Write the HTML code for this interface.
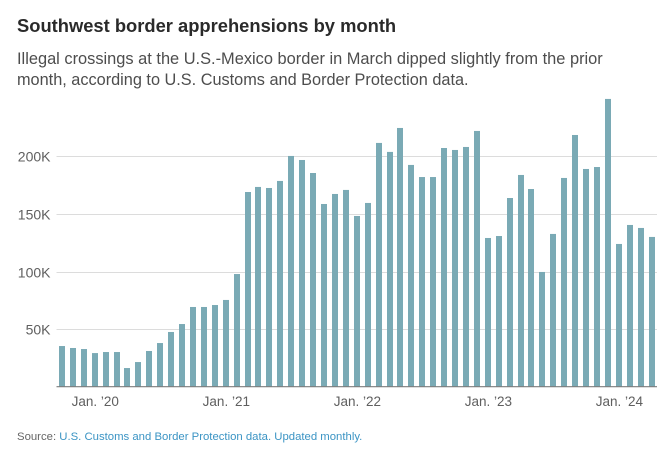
<!DOCTYPE html>
<html lang="en">
<head>
<meta charset="utf-8">
<title>Southwest border apprehensions by month</title>
<style>
  html, body { margin: 0; padding: 0; background: #fff; }
  body { width: 669px; height: 461px; position: relative; overflow: hidden; font-family: "Liberation Sans", sans-serif; }
  .t { position: absolute; white-space: nowrap; margin: 0; }
  #title { left: 17px; top: 15px; font-size: 18.35px; line-height: 21px; font-weight: 700; color: #2a2a2a; }
  #sub1 { left: 17px; top: 49px; font-size: 16.4px; line-height: 21px; color: #4d4d4d; }
  #sub2 { left: 17px; top: 70px; font-size: 16.3px; line-height: 21px; color: #4d4d4d; }
  #source { left: 17px; top: 430px; font-size: 11.35px; line-height: 14px; color: #666; }
  #source a { color: #3b94c4; text-decoration: none; }
  svg { position: absolute; left: 0; top: 0; }
  svg text { font-family: "Liberation Sans", sans-serif; fill: #5f5f5f; }
  svg text.y-label { font-size: 14px; }
  svg text.x-label { font-size: 13.5px; }
</style>
</head>
<body>
  <h1 class="t" id="title">Southwest border apprehensions by month</h1>
  <p class="t" id="sub1">Illegal crossings at the U.S.-Mexico border in March dipped slightly from the prior</p>
  <p class="t" id="sub2">month, according to U.S. Customs and Border Protection data.</p>
  <svg id="chart" width="669" height="461"></svg>
  <p class="t" id="source">Source: <a href="#">U.S. Customs and Border Protection data. Updated monthly.</a></p>

<script>
const monthValues = [35.3, 33.6, 32.7, 29.2, 30.1, 30.1, 16.2, 21.4, 31, 37.9, 47.5, 54.4, 69.2, 69.2, 70.9, 75.3, 97.8, 169, 173.4, 172.5, 178.6, 200.3, 196.8, 185.5, 158.6, 167.3, 170.8, 148.2, 159.5, 211.6, 203.8, 224.6, 192.5, 182, 182, 207.2, 205.5, 208.1, 222, 129.1, 130.8, 163.8, 183.8, 171.6, 99.6, 132.6, 181.2, 218.5, 189, 190.7, 249.8, 123.9, 140.4, 137.8, 130];
const yTicks = [50, 100, 150, 200];
const xTickLabels = ["Jan. \u201920", "Jan. \u201921", "Jan. \u201922", "Jan. \u201923", "Jan. \u201924"];
const xTickIndexes = [3, 15, 27, 39, 51];

const svgNS = "http://www.w3.org/2000/svg";
const chart = document.getElementById("chart");
const plotLeft = 56.5, plotRight = 657, plotBottom = 386.7, pxPerK = 1.152;
const step = (plotRight - plotLeft) / monthValues.length;

function xCenter(i) { return plotLeft + step * (i + 0.5); }
function yPos(v) { return plotBottom - v * pxPerK; }

function make(tag, attrs) {
  const el = document.createElementNS(svgNS, tag);
  for (const k in attrs) el.setAttribute(k, attrs[k]);
  chart.appendChild(el);
  return el;
}

yTicks.forEach(function (v) {
  const y = Math.round(yPos(v)) + 0.5;
  const line = make("line", { x1: plotLeft, x2: plotRight, y1: y, y2: y, stroke: "#dcdcdc", "stroke-width": 1 });
  
  
  const label = make("text", { x: 50.5, y: y + 5, "text-anchor": "end", "class": "y-label" });
  label.textContent = v + "K";
  
  
});

monthValues.forEach(function (v, i) {
  const top = yPos(v);
  const bar = make("rect", { x: Math.round(xCenter(i) - 3), y: top, width: 6, height: plotBottom - top, fill: "#7aaab5" });
  
  
});

const axisLine = make("line", { x1: plotLeft, x2: plotRight, y1: plotBottom, y2: plotBottom, stroke: "#7d7d7d", "stroke-width": 1.2 });



xTickLabels.forEach(function (text, n) {
  const label = make("text", { x: xCenter(xTickIndexes[n]) + 0.6, y: 406, "text-anchor": "middle", "class": "x-label" });
  label.textContent = text;
  
  
});
</script>
</body>
</html>
